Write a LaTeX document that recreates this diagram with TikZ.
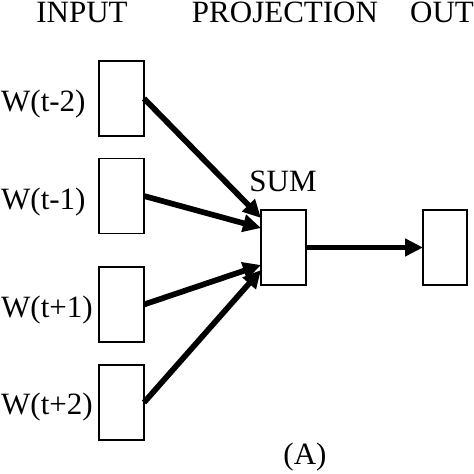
\documentclass[tikz,border=0pt]{standalone}
\usepackage{fontspec}
\setmainfont{Liberation Serif}
\usetikzlibrary{arrows.meta}
\begin{document}
\begin{tikzpicture}[x=1pt,y=-1pt,
 box/.style={draw,line width=1.6pt,minimum width=45pt,minimum height=75pt,inner sep=0pt,outer sep=0pt},
 lbl/.style={font=\fontsize{31}{31}\selectfont,inner sep=0pt},
 head/.style={lbl,text height=21pt,text depth=0pt},
 conn/.style={line width=5.7pt,-{Triangle[length=18pt,width=17pt]}}]
\useasboundingbox (0,0) rectangle (474,474);
\node[box] (in1) at (121.5,98.5) {};
\node[box] (in2) at (121.5,196) {};
\node[box] (in3) at (121.5,304.5) {};
\node[box] (in4) at (121.5,402.5) {};
\node[box] (sum) at (283.5,247.5) {};
\node[box,minimum width=44pt] (out) at (445,247.5) {};
\node[head,anchor=base] (tin) at (82,22.5) {INPUT};
\node[head,anchor=base] (tproj) at (285,22.5) {PROJECTION};
\node[head,anchor=base west] (tout) at (410,22.5) {OUT};
\node[lbl,anchor=base west] (w1) at (1,111) {W(t-2)};
\node[lbl,anchor=base west] (w2) at (1,209) {W(t-1)};
\node[lbl,anchor=base west] (w3) at (1,317) {W(t+1)};
\node[lbl,anchor=base west] (w4) at (1,414) {W(t+2)};
\node[lbl,anchor=base] (tsum) at (283,191) {SUM};
\node[lbl,anchor=base] (tA) at (305,464) {(A)};
\draw[conn] (in1.east) -- ([yshift=29.5pt]sum.west);
\draw[conn] (in2.east) -- ([yshift=19.5pt]sum.west);
\draw[conn] (in3.east) -- ([yshift=-17.5pt]sum.west);
\draw[conn] (in4.east) -- ([yshift=-22.5pt]sum.west);
\draw[conn] (sum.east) -- (out.west);
\end{tikzpicture}
\end{document}
